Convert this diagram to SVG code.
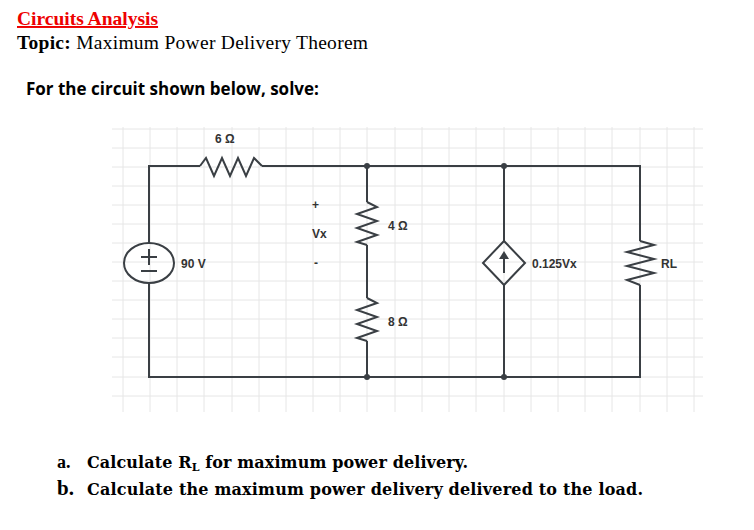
<svg xmlns="http://www.w3.org/2000/svg" width="754" height="530" viewBox="0 0 754 530">
<style>
.w{stroke:#3a3f44;stroke-width:2;fill:none}
.g{stroke:#e6e6e6;stroke-width:1}
.c{font-family:"Liberation Sans",Arial,sans-serif;font-weight:bold;font-size:12px;fill:#333}
.s{font-family:"Liberation Serif",serif}
.d{font-family:"DejaVu Serif",serif;font-weight:bold}
</style>
<rect width="754" height="530" fill="#fff"/>
<text x="17" y="25" class="s" font-size="19.5" font-weight="bold" fill="#e00" text-decoration="underline">Circuits Analysis</text>
<text x="17" y="49" class="s" font-size="19.5" textLength="351"><tspan font-weight="bold">Topic:</tspan> Maximum Power Delivery Theorem</text>
<text x="26" y="95" font-family="'Open Sans',sans-serif" font-weight="bold" font-size="17">For the circuit shown below, solve:</text>
<g id="grid">
<path class="g" d="M123 127V412M150 127V412M177 127V412M204 127V412M232 127V412M259 127V412M286 127V412M313 127V412M340 127V412M367 127V412M395 127V412M422 127V412M449 127V412M476 127V412M504 127V412M531 127V412M558 127V412M585 127V412M612 127V412M640 127V412M667 127V412M694 127V412M112 129H703M112 148H703M112 167H703M112 186H703M112 205H703M112 224H703M112 243H703M112 262H703M112 281H703M112 300H703M112 319H703M112 338H703M112 357H703M112 377H703M112 396H703"/>
</g>
<g id="connectors">
<path class="w" d="M149 243V166H200M262 166H640V241M640 285V377H149V283M367 166V202M367 245V298M367 341V377M504 166V241M504 285V377"/>
<circle cx="367" cy="166" r="3" fill="#3a3f44"/><circle cx="504" cy="166" r="3" fill="#3a3f44"/>
<circle cx="367" cy="377" r="3" fill="#3a3f44"/><circle cx="504" cy="377" r="3" fill="#3a3f44"/>
</g>
<g id="V1"><ellipse class="w" cx="149" cy="263" rx="25" ry="20"/><path class="w" d="M141 257H157M149 249V265M141 271H157"/><text class="c" x="181" y="268">90 V</text></g>
<g id="R6"><path class="w" d="M200 166L206 158L214 176L222 158L230 176L238 158L246 176L254 158L262 166"/><text class="c" x="215" y="143">6 Ω</text></g>
<g id="R4"><path class="w" d="M367 202L377 207L357 214L377 221L357 228L377 235L357 242L367 245"/><text class="c" x="388" y="230">4 Ω</text></g>
<g id="R8"><path class="w" d="M367 298L377 303L357 310L377 317L357 324L377 331L357 338L367 341"/><text class="c" x="388" y="326">8 Ω</text></g>
<g id="Vx"><text class="c" x="312" y="209">+</text><text class="c" x="312" y="238">Vx</text><text class="c" x="314" y="267">-</text></g>
<g id="I"><path class="w" d="M504 241L525 263L504 285L483 263Z"/><path class="w" d="M504 273V257"/><path d="M499 259L504 251L509 259Z" fill="#3a3f44"/><text class="c" x="532" y="268">0.125Vx</text></g>
<g id="RL"><path class="w" d="M640 241L654 245L627 252L654 259L627 266L654 273L627 280L640 285"/><text class="c" x="661" y="268">RL</text></g>
<text x="57" y="468" class="s" font-size="18" font-weight="bold">a.</text>
<text x="87" y="468" class="d" font-size="16" textLength="381">Calculate R<tspan font-size="11" dy="3">L</tspan><tspan dy="-3"> for maximum power delivery.</tspan></text>
<text x="57" y="495" class="s" font-size="21" font-weight="bold">b.</text>
<text x="87" y="495" class="d" font-size="16" textLength="556">Calculate the maximum power delivery delivered to the load.</text>
</svg>
